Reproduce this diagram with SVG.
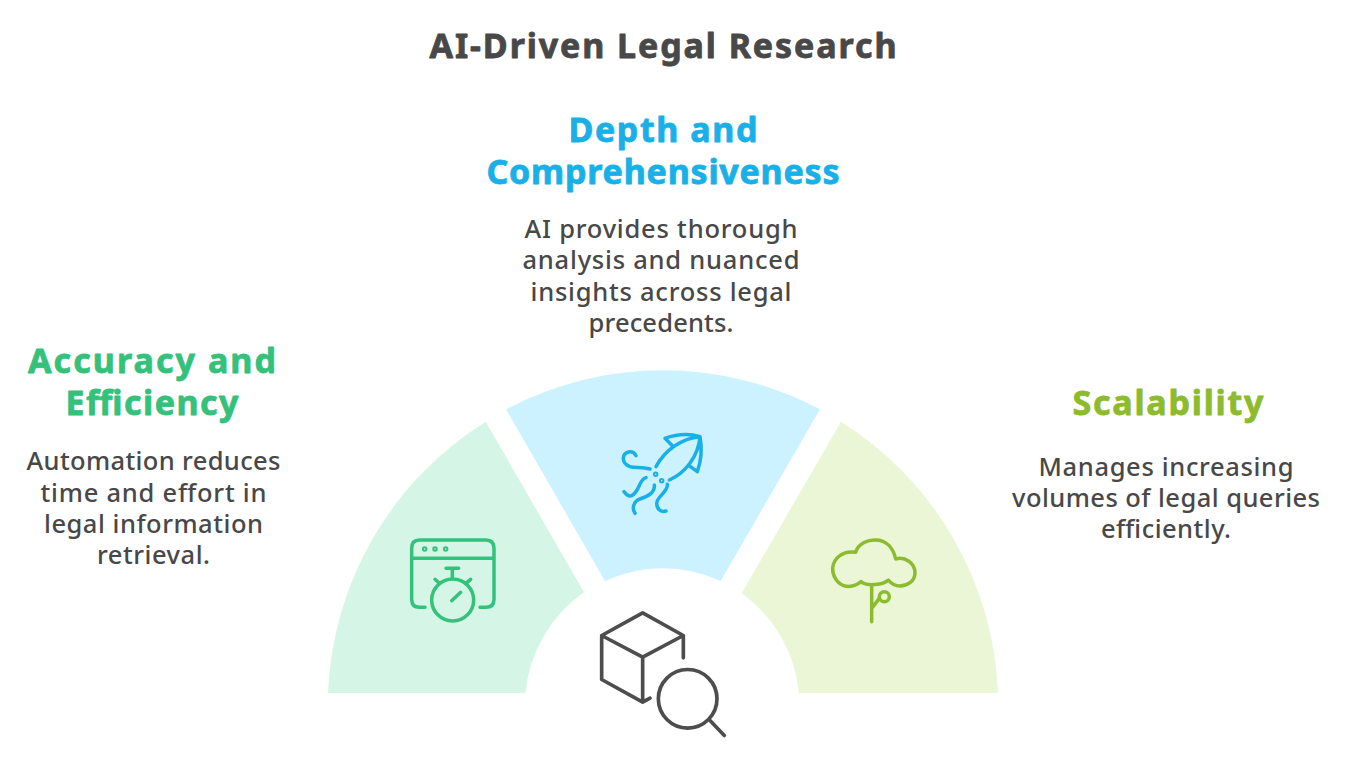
<svg xmlns="http://www.w3.org/2000/svg" width="1358" height="760" viewBox="0 0 1358 760">
<style>
text{font-family:"Noto Sans","DejaVu Sans",sans-serif;text-anchor:middle;stroke-linejoin:round;paint-order:stroke}
.t{font-weight:700;font-size:34px;fill:#484848;stroke:#484848;stroke-width:.8px}
.h{font-weight:700;font-size:34px;stroke-width:.8px}
.b{font-size:25.500px;font-weight:500;fill:#484848}
.ic{fill:none;stroke-width:10.500;stroke-linecap:round;stroke-linejoin:round}
.g{stroke:#34c17b}.c{stroke:#19b0e8}.l{stroke:#8dbb2e}.k{stroke:#4d4d4d;stroke-width:11}
.hg{fill:#34c17b;stroke:#34c17b}.hc{fill:#19b0e8;stroke:#19b0e8}.hl{fill:#8dbb2e;stroke:#8dbb2e}
</style>
<rect width="1358" height="760" fill="#fff"/>
<text class="t" x="663" y="58" textLength="467" lengthAdjust="spacing">AI-Driven Legal Research</text>
<g id="node-accuracy">
<path d="M328 693A335.500 335.500 0 0 1 485.700 421.700L584 592.300A138.600 138.600 0 0 0 525.500 693Z" fill="#d5f6e6"/>
<g transform="translate(400 530) scale(.33333)" class="ic g">
<path d="M75 232H58Q35 232 35 208V55Q35 30 58 30H258Q282 30 282 55V208Q282 232 258 232H240M35 85H282M138 115H176M157 115V145M105 148L118 160M212 148L198 160M155 212L182 187"/>
<circle cx="158" cy="210" r="63"/>
<circle cx="74" cy="57" r="3"/><circle cx="105" cy="57" r="3"/><circle cx="137" cy="57" r="3"/>
</g>
<text class="h hg" x="152" y="373" textLength="248" lengthAdjust="spacing">Accuracy and</text>
<text class="h hg" x="152" y="415" textLength="173" lengthAdjust="spacing">Efficiency</text>
<text class="b" x="153.500" y="470" textLength="254" lengthAdjust="spacing">Automation reduces</text>
<text class="b" x="153.500" y="501.500" textLength="226" lengthAdjust="spacing">time and effort in</text>
<text class="b" x="153.500" y="533" textLength="219" lengthAdjust="spacing">legal information</text>
<text class="b" x="153.500" y="564" textLength="113" lengthAdjust="spacing">retrieval.</text>
</g>
<g id="node-depth">
<path d="M506 409.300A335.500 335.500 0 0 1 820 409.300L720.700 581A138.600 138.600 0 0 0 605 581Z" fill="#cdf2ff"/>
<g transform="translate(610 425) scale(.33333)" class="ic c">
<path d="M138 125C165 75 215 40 270 35C265 95 225 145 178 165M165 40Q220 20 270 35Q280 90 262 140L237 122M165 40L190 65"/>
<path d="M120 132C95 125 75 130 60 125C34 115 34 88 55 81C66 78 74 84 78 92M108 158C85 165 90 200 65 212C55 216 48 208 42 200M133 180C135 205 110 215 90 222C70 230 65 250 75 265M172 178C175 200 140 215 140 235C140 255 155 262 168 258"/>
<circle cx="137" cy="148" r="3"/><circle cx="155" cy="167" r="3"/>
</g>
<text class="h hc" x="663" y="142" textLength="189" lengthAdjust="spacing">Depth and</text>
<text class="h hc" x="663" y="184" textLength="353" lengthAdjust="spacing">Comprehensiveness</text>
<text class="b" x="661" y="238" textLength="273" lengthAdjust="spacing">AI provides thorough</text>
<text class="b" x="661" y="269" textLength="277" lengthAdjust="spacing">analysis and nuanced</text>
<text class="b" x="661" y="300.500" textLength="261" lengthAdjust="spacing">insights across legal</text>
<text class="b" x="661" y="332" textLength="145" lengthAdjust="spacing">precedents.</text>
</g>
<g id="node-scalability">
<path d="M841 421.700A335.500 335.500 0 0 1 998 693H799A138.600 138.600 0 0 0 741.700 593.300Z" fill="#eaf6d6"/>
<g transform="translate(825 530) scale(.33333)" class="ic l">
<path d="M108 155C90 170 70 170 60 168C35 162 22 135 23 115C25 85 55 60 92 67C100 40 130 28 155 30C185 32 205 55 212 87C240 78 270 100 270 128C270 155 245 168 225 168C210 168 198 160 190 150C175 165 125 170 108 155ZM140 168V275M140 235L163 205"/>
<circle cx="178" cy="200" r="15"/>
</g>
<text class="h hl" x="1168" y="415" textLength="191" lengthAdjust="spacing">Scalability</text>
<text class="b" x="1166" y="475.500" textLength="255" lengthAdjust="spacing">Manages increasing</text>
<text class="b" x="1166" y="506.500" textLength="308" lengthAdjust="spacing">volumes of legal queries</text>
<text class="b" x="1166" y="538" textLength="130" lengthAdjust="spacing">efficiently.</text>
</g>
<g id="node-center">
<g transform="translate(595 605.500) scale(.33333)" class="ic k">
<path d="M143 22L265 90L143 155L20 90ZM20 90V222L143 290V155M143 290L165 278M265 90V157M345 345L388 390"/>
<circle cx="278" cy="280" r="88"/>
</g>
</g>
</svg>
